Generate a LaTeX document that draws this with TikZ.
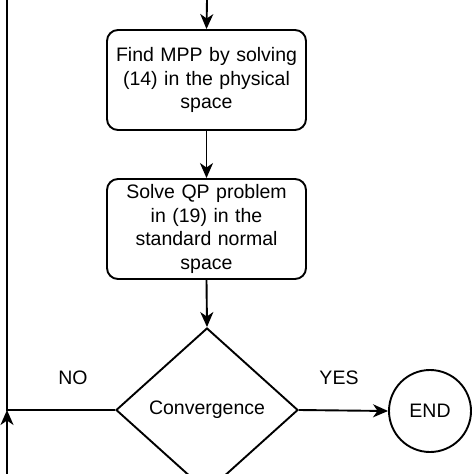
\documentclass[tikz,border=0pt]{standalone}
\usepackage{fontspec}
\setmainfont{Liberation Sans}
\usetikzlibrary{shapes.geometric,arrows.meta}
\begin{document}
\begin{tikzpicture}[x=1pt,y=-1pt,
  font=\fontsize{19.5}{23.5}\selectfont,
  line width=1.9pt,
  arr/.style={-{Stealth[length=15pt,width=13pt,inset=4.5pt]}},
  procbox/.style={draw,rounded corners=11pt,minimum width=199pt,minimum height=100pt,align=center,inner sep=0pt,text width=190pt},
  decide/.style={draw,diamond,minimum width=182pt,minimum height=164pt,inner sep=0pt},
  term/.style={draw,circle,minimum size=82pt,inner sep=0pt},
  lbl/.style={inner sep=0pt}]
\useasboundingbox (0,0) rectangle (474,474);
\node[procbox] (b1) at (206.5,80) {Find MPP by solving\\(14) in the physical\\space};
\node[procbox] (b2) at (206.5,229) {Solve QP problem\\in (19) in the\\standard normal\\space};
\node[decide] (d) at (207,410) {Convergence};
\node[term] (e) at (430,411) {END};
\node[lbl] (no) at (73,378) {NO};
\node[lbl] (yes) at (339,378) {YES};
\coordinate (t) at (207,0);
\coordinate (lj) at (7,410);
\coordinate (ltop) at (7,0);
\coordinate (lbot) at (7,474);
\draw[arr] (t) -- (b1.north);
\draw[arr] (b1.south) -- (b2.north);
\draw[arr] (b2.south) -- (d.north);
\draw[arr] (d.east) -- (e.west);
\draw (d.west) -- (lj) -- (ltop);
\draw[arr] (lbot) -- (lj);
\end{tikzpicture}
\end{document}
